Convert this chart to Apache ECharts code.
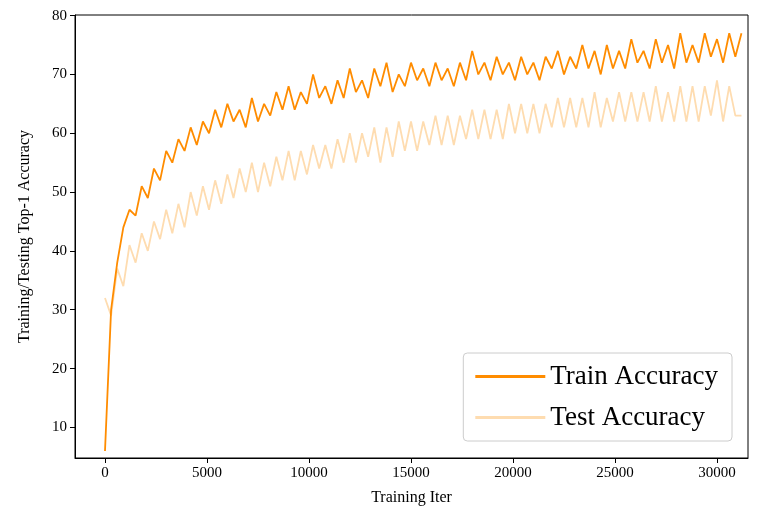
<!DOCTYPE html>
<html><head><meta charset="utf-8">
<script src="https://cdn.jsdelivr.net/npm/echarts@6/dist/echarts.min.js"></script>
<style>html,body{margin:0;background:#fff}#c{width:762px;height:531px}</style>
</head><body><div id="c"></div>
<script>
var iters = [0,300,600,900,1200,1500,1800,2100,2400,2700,3000,3300,3600,3900,4200,4500,4800,5100,5400,5700,
  6000,6300,6600,6900,7200,7500,7800,8100,8400,8700,9000,9300,9600,9900,10200,10500,10800,11100,11400,11700,
  12000,12300,12600,12900,13200,13500,13800,14100,14400,14700,15000,15300,15600,15900,16200,16500,16800,17100,17400,17700,
  18000,18300,18600,18900,19200,19500,19800,20100,20400,20700,21000,21300,21600,21900,22200,22500,22800,23100,23400,23700,
  24000,24300,24600,24900,25200,25500,25800,26100,26400,26700,27000,27300,27600,27900,28200,28500,28800,29100,29400,29700,
  30000,30300,30600,30900,31200];
var trainAcc = [6,30,38,44,47,46,51,49,54,52,57,55,59,57,61,58,62,60,64,61,
  65,62,64,61,66,62,65,63,67,64,68,64,67,65,70,66,68,65,69,66,
  71,67,69,66,71,68,72,67,70,68,72,69,71,68,72,69,71,68,72,69,
  74,70,72,69,73,70,72,69,73,70,72,69,73,71,74,70,73,71,75,71,
  74,70,75,71,74,71,76,72,74,71,76,72,75,71,77,72,75,72,77,73,
  76,72,77,73,77];
var testAcc = [32,29,37,34,41,38,43,40,45,42,47,43,48,44,50,46,51,47,52,48,
  53,49,54,50,55,50,55,51,56,52,57,52,57,53,58,54,58,54,59,55,
  60,55,60,56,61,55,61,56,62,57,62,57,62,58,63,58,63,58,63,59,
  64,59,64,59,64,59,65,60,65,60,65,60,65,61,66,61,66,61,66,61,
  67,61,66,62,67,62,67,62,67,62,68,62,67,62,68,62,68,62,68,63,
  69,62,68,63,63];
var yTicks = [10,20,30,40,50,60,70,80];
var xTicks = [0,5000,10000,15000,20000,25000,30000];

function pairs(ys){ return iters.map(function(x,i){ return [x, ys[i]]; }); }
var font = 'Liberation Serif';
var chart = echarts.init(document.getElementById('c'));
chart.setOption({
  animation: false,
  textStyle: {fontFamily: font},
  grid: {left: 75, right: 14, top: 15, bottom: 73, show: true, borderColor: '#000', borderWidth: 1},
  xAxis: {
    type: 'value', min: -1470, max: 31520,
    name: 'Training Iter', nameLocation: 'middle', nameGap: 32,
    nameTextStyle: {fontFamily: font, fontSize: 16, color: '#000'},
    axisLine: {show: true, onZero: false, lineStyle: {color: '#000'}},
    axisTick: {show: true, inside: false, length: 5, customValues: xTicks, lineStyle: {color: '#000'}},
    axisLabel: {customValues: xTicks, formatter: function(v){ return String(v); }, fontFamily: font, fontSize: 15, color: '#000'},
    splitLine: {show: false}
  },
  yAxis: {
    type: 'value', min: 4.8, max: 80.1,
    name: 'Training/Testing Top-1 Accuracy', nameLocation: 'middle', nameGap: 42,
    nameTextStyle: {fontFamily: font, fontSize: 16, color: '#000'},
    axisLine: {show: true, onZero: false, lineStyle: {color: '#000'}},
    axisTick: {show: true, length: 5, customValues: yTicks, lineStyle: {color: '#000'}},
    axisLabel: {customValues: yTicks, fontFamily: font, fontSize: 15, color: '#000'},
    splitLine: {show: false}
  },
  legend: {
    orient: 'vertical', right: 30, bottom: 90,
    padding: [10, 14, 10, 12], itemGap: 14, itemWidth: 70, itemHeight: 3,
    borderColor: '#ccc', borderWidth: 1, borderRadius: 4, backgroundColor: '#fff',
    textStyle: {fontFamily: font, fontSize: 27, color: '#000'},
    icon: 'rect',
    data: ['Train Accuracy', 'Test Accuracy']
  },
  series: [
    {name: 'Test Accuracy', type: 'line', data: pairs(testAcc), symbol: 'none', z: 2,
     lineStyle: {color: '#fedcb0', width: 1.8}, itemStyle: {color: '#fedcb0'}},
    {name: 'Train Accuracy', type: 'line', data: pairs(trainAcc), symbol: 'none', z: 3,
     lineStyle: {color: '#ff8c00', width: 1.8}, itemStyle: {color: '#ff8c00'}}
  ]
});
</script></body></html>
